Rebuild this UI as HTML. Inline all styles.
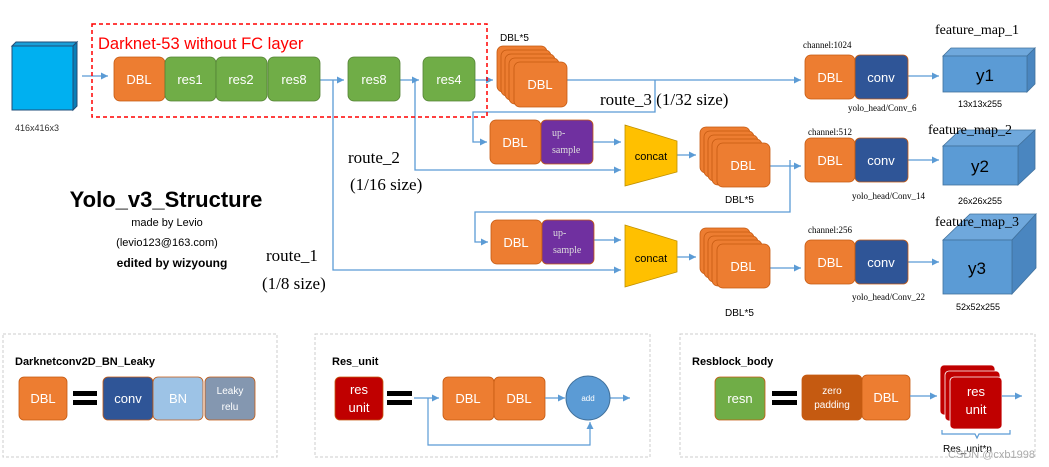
<!DOCTYPE html>
<html><head><meta charset="utf-8"><style>
html,body{margin:0;padding:0;background:#fff;}
svg{display:block;}
.s{font-family:"Liberation Sans",sans-serif;}
.r{font-family:"Liberation Serif",serif;}
</style></head><body>
<svg width="1049" height="467" viewBox="0 0 1049 467" xmlns="http://www.w3.org/2000/svg">
<defs>
<marker id="a" markerWidth="8" markerHeight="8" refX="7" refY="4" orient="auto" markerUnits="userSpaceOnUse"><path d="M0,0.5 L7,4 L0,7.5z" fill="#5b9bd5"/></marker>
</defs>
<g fill="none" stroke="#5b9bd5" stroke-width="1.3">
<path d="M82,76 H108" marker-end="url(#a)"/>
<path d="M320,80 H344" marker-end="url(#a)"/>
<path d="M400,80 H419" marker-end="url(#a)"/>
<path d="M475,80 H493" marker-end="url(#a)"/>
<path d="M567,80 H801" marker-end="url(#a)"/>
<path d="M655,80 V112 H473 V142 H487" marker-end="url(#a)"/>
<path d="M593,142 H621" marker-end="url(#a)"/>
<path d="M677,155 H696" marker-end="url(#a)"/>
<path d="M415,80 V170 H621" marker-end="url(#a)"/>
<path d="M770,166 H790 V160 M790,166 V212 H475 V242 H488" marker-end="url(#a)"/>
<path d="M790,166 H801" marker-end="url(#a)"/>
<path d="M593,240 H621" marker-end="url(#a)"/>
<path d="M677,257 H696" marker-end="url(#a)"/>
<path d="M333,80 V270 H621" marker-end="url(#a)"/>
<path d="M770,268 H801" marker-end="url(#a)"/>
<path d="M908,76 H939" marker-end="url(#a)"/>
<path d="M908,160 H939" marker-end="url(#a)"/>
<path d="M908,262 H939" marker-end="url(#a)"/>
</g>
<path d="M12,46 L16,42 L77,42 L73,46z" fill="#1a9fd8" stroke="#1f4e79" stroke-width="1"/>
<path d="M73,46 L77,42 L77,106 L73,110z" fill="#0a7fb8" stroke="#1f4e79" stroke-width="1"/>
<rect x="12" y="46" width="61" height="64" fill="#00b0f0" stroke="#1f4e79" stroke-width="1"/>
<text x="15" y="131" class="s" font-size="9" fill="#333">416x416x3</text>
<rect x="92" y="24" width="395" height="93" fill="none" stroke="#ff0000" stroke-width="1.5" stroke-dasharray="4,3"/>
<text x="98" y="49" class="s" font-size="16.5" fill="#ff0000">Darknet-53 without FC layer</text>
<g stroke="#c55a11" stroke-width="0.8">
<rect x="114" y="57" width="51" height="44" rx="6" fill="#ed7d31"/>
<rect x="165" y="57" width="51" height="44" rx="6" fill="#70ad47" stroke="#548235"/>
<rect x="216" y="57" width="51" height="44" rx="6" fill="#70ad47" stroke="#548235"/>
<rect x="268" y="57" width="52" height="44" rx="6" fill="#70ad47" stroke="#548235"/>
<rect x="348" y="57" width="52" height="44" rx="6" fill="#70ad47" stroke="#548235"/>
<rect x="423" y="57" width="52" height="44" rx="6" fill="#70ad47" stroke="#548235"/>
</g>
<g class="s" font-size="13" fill="#fff" text-anchor="middle">
<text x="139" y="84">DBL</text><text x="190" y="84">res1</text><text x="241" y="84">res2</text><text x="294" y="84">res8</text><text x="374" y="84">res8</text><text x="449" y="84">res4</text>
</g>
<g fill="#ed7d31" stroke="#c55a11" stroke-width="0.8">
<rect x="497" y="46" width="50" height="46" rx="6"/><rect x="501" y="50" width="50" height="46" rx="6"/><rect x="505" y="54" width="50" height="46" rx="6"/><rect x="509" y="58" width="50" height="46" rx="6"/><rect x="514" y="62" width="53" height="45" rx="6"/>
<rect x="700" y="127" width="50" height="46" rx="6"/><rect x="704" y="131" width="50" height="46" rx="6"/><rect x="708" y="135" width="50" height="46" rx="6"/><rect x="712" y="139" width="50" height="46" rx="6"/><rect x="717" y="143" width="53" height="44" rx="6"/>
<rect x="700" y="228" width="50" height="46" rx="6"/><rect x="704" y="232" width="50" height="46" rx="6"/><rect x="708" y="236" width="50" height="46" rx="6"/><rect x="712" y="240" width="50" height="46" rx="6"/><rect x="717" y="244" width="53" height="44" rx="6"/>
<rect x="490" y="120" width="51" height="44" rx="6"/><rect x="491" y="220" width="51" height="44" rx="6"/>
<rect x="805" y="55" width="50" height="44" rx="6"/><rect x="805" y="138" width="50" height="44" rx="6"/><rect x="805" y="240" width="50" height="44" rx="6"/>
</g>
<g fill="#7030a0" stroke="#c55a11" stroke-width="0.8">
<rect x="541" y="120" width="52" height="44" rx="5"/><rect x="542" y="220" width="52" height="44" rx="5"/>
</g>
<g fill="#2f5597" stroke="#c55a11" stroke-width="0.8">
<rect x="855" y="55" width="53" height="44" rx="5"/><rect x="855" y="138" width="53" height="44" rx="5"/><rect x="855" y="240" width="53" height="44" rx="5"/>
</g>
<path d="M625,125 L677,141 L677,172 L625,186z" fill="#ffc000" stroke="#bf9000" stroke-width="0.8"/>
<path d="M625,225 L677,241 L677,272 L625,287z" fill="#ffc000" stroke="#bf9000" stroke-width="0.8"/>
<g class="s" font-size="13" fill="#fff" text-anchor="middle">
<text x="540" y="89">DBL</text><text x="743" y="170">DBL</text><text x="743" y="271">DBL</text>
<text x="515" y="147">DBL</text><text x="516" y="247">DBL</text>
<text x="830" y="82">DBL</text><text x="830" y="165">DBL</text><text x="830" y="267">DBL</text>
<text x="881" y="82">conv</text><text x="881" y="165">conv</text><text x="881" y="267">conv</text>
</g>
<g class="r" font-size="10" fill="#ddd">
<text x="552" y="136">up-</text><text x="552" y="153">sample</text>
<text x="553" y="236">up-</text><text x="553" y="253">sample</text>
</g>
<g class="s" font-size="11" fill="#000" text-anchor="middle"><text x="651" y="160">concat</text><text x="651" y="262">concat</text></g>
<g class="s" font-size="10" fill="#000"><text x="500" y="41">DBL*5</text><text x="725" y="203">DBL*5</text><text x="725" y="316">DBL*5</text></g>
<g stroke="#41719c" stroke-width="0.8">
<path d="M943,56 L951,48 L1035,48 L1027,56z" fill="#6fa8dc"/><path d="M1027,56 L1035,48 L1035,84 L1027,92z" fill="#4a86c0"/><rect x="943" y="56" width="84" height="36" fill="#5b9bd5"/>
<path d="M943,146 L960,130 L1035,130 L1018,146z" fill="#6fa8dc"/><path d="M1018,146 L1035,130 L1035,169 L1018,185z" fill="#4a86c0"/><rect x="943" y="146" width="75" height="39" fill="#5b9bd5"/>
<path d="M943,240 L970,214 L1036,214 L1012,240z" fill="#6fa8dc"/><path d="M1012,240 L1036,214 L1036,268 L1012,294z" fill="#4a86c0"/><rect x="943" y="240" width="69" height="54" fill="#5b9bd5"/>
</g>
<g class="s" font-size="17" fill="#000" text-anchor="middle"><text x="985" y="81">y1</text><text x="980" y="172">y2</text><text x="977" y="274">y3</text></g>
<g class="r" fill="#000">
<text x="935" y="34" font-size="14">feature_map_1</text><text x="928" y="134" font-size="14">feature_map_2</text><text x="935" y="226" font-size="14">feature_map_3</text>
<text x="803" y="48" font-size="9">channel:1024</text><text x="808" y="135" font-size="9">channel:512</text><text x="808" y="233" font-size="9">channel:256</text>
<text x="848" y="111" font-size="9">yolo_head/Conv_6</text><text x="852" y="199" font-size="9">yolo_head/Conv_14</text><text x="852" y="300" font-size="9">yolo_head/Conv_22</text>
<text x="600" y="105" font-size="17">route_3  (1/32 size)</text>
<text x="348" y="163" font-size="17">route_2</text><text x="350" y="190" font-size="17">(1/16 size)</text>
<text x="266" y="261" font-size="17">route_1</text><text x="262" y="289" font-size="17">(1/8 size)</text>
</g>
<g class="s" font-size="9" fill="#000"><text x="958" y="107">13x13x255</text><text x="958" y="204">26x26x255</text><text x="956" y="310">52x52x255</text></g>
<g class="s" text-anchor="middle" fill="#000">
<text x="166" y="207" font-size="22" font-weight="bold">Yolo_v3_Structure</text>
<text x="167" y="226" font-size="11">made by Levio</text>
<text x="167" y="246" font-size="11">(levio123@163.com)</text>
<text x="172" y="267" font-size="12" font-weight="bold">edited by wizyoung</text>
</g>
<g fill="none" stroke="#ccc" stroke-width="1" stroke-dasharray="3,2">
<rect x="3" y="334" width="274" height="123"/><rect x="315" y="334" width="335" height="123"/><rect x="680" y="334" width="355" height="123"/>
</g>
<g class="s" font-size="11" font-weight="bold" fill="#000"><text x="15" y="365">Darknetconv2D_BN_Leaky</text><text x="332" y="365">Res_unit</text><text x="692" y="365">Resblock_body</text></g>
<g stroke-width="0.8" stroke="#c55a11">
<rect x="19" y="377" width="48" height="43" rx="5" fill="#ed7d31"/>
<rect x="103" y="377" width="50" height="43" rx="5" fill="#2f5597"/>
<rect x="153" y="377" width="50" height="43" rx="5" fill="#9dc3e6"/>
<rect x="205" y="377" width="50" height="43" rx="5" fill="#8497b0"/>
<rect x="335" y="377" width="48" height="43" rx="5" fill="#c00000"/>
<rect x="443" y="377" width="51" height="43" rx="5" fill="#ed7d31"/>
<rect x="494" y="377" width="51" height="43" rx="5" fill="#ed7d31"/>
<rect x="715" y="377" width="50" height="43" rx="5" fill="#70ad47"/>
<rect x="802" y="375" width="60" height="45" rx="5" fill="#c55a11"/>
<rect x="862" y="375" width="48" height="45" rx="5" fill="#ed7d31"/>
<rect x="940" y="365" width="55" height="50" rx="4" fill="#c00000" stroke="#fff"/>
<rect x="945" y="371" width="55" height="50" rx="4" fill="#c00000" stroke="#fff"/>
<rect x="950" y="377" width="52" height="52" rx="4" fill="#c00000" stroke="#fff"/>
</g>
<g fill="#000"><rect x="73" y="391" width="24" height="5"/><rect x="73" y="400" width="24" height="5"/>
<rect x="387" y="391" width="25" height="5"/><rect x="387" y="400" width="25" height="5"/>
<rect x="772" y="391" width="25" height="5"/><rect x="772" y="400" width="25" height="5"/></g>
<g fill="none" stroke="#5b9bd5" stroke-width="1.2">
<path d="M414,398 H439" marker-end="url(#a)"/><path d="M545,398 H565" marker-end="url(#a)"/><path d="M610,398 H630" marker-end="url(#a)"/>
<path d="M428,398 V445 H590 V422" marker-end="url(#a)"/>
<path d="M910,396 H937" marker-end="url(#a)"/><path d="M1002,396 H1022" marker-end="url(#a)"/>
<path d="M942,430 V434 H975 L977,438 L979,434 H1010 V430"/>
</g>
<circle cx="588" cy="398" r="22" fill="#5b9bd5" stroke="#41719c"/>
<g class="s" fill="#fff" text-anchor="middle">
<text x="43" y="403" font-size="13">DBL</text><text x="128" y="403" font-size="13">conv</text><text x="178" y="403" font-size="13">BN</text>
<text x="230" y="394" font-size="10">Leaky</text><text x="230" y="410" font-size="10">relu</text>
<text x="359" y="394" font-size="13">res</text><text x="359" y="412" font-size="13">unit</text>
<text x="468" y="403" font-size="13">DBL</text><text x="519" y="403" font-size="13">DBL</text><text x="588" y="401" font-size="8">add</text>
<text x="740" y="403" font-size="13">resn</text><text x="832" y="394" font-size="10">zero</text><text x="832" y="408" font-size="10">padding</text>
<text x="886" y="402" font-size="13">DBL</text><text x="976" y="396" font-size="13">res</text><text x="976" y="414" font-size="13">unit</text>
</g>
<text x="943" y="452" class="s" font-size="10" fill="#000">Res_unit*n</text>
<text x="948" y="458" class="s" font-size="11" fill="#aaa">CSDN @cxb1998</text>
</svg>
</body></html>
